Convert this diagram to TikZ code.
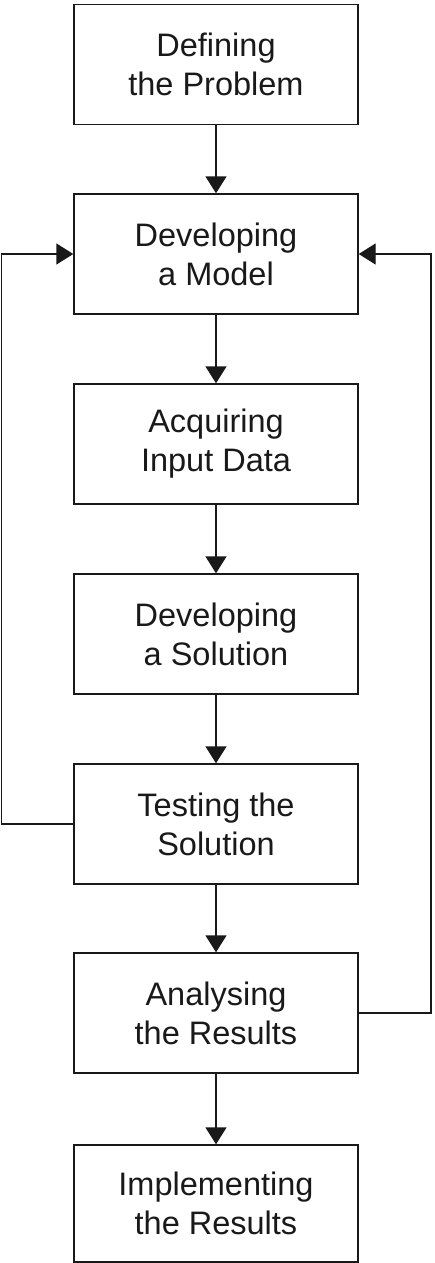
\documentclass[tikz,border=0pt]{standalone}
\usepackage{fontspec}
\setmainfont{Liberation Sans}
\usetikzlibrary{arrows.meta}
\begin{document}
\begin{tikzpicture}[x=1pt,y=-1pt,
  stepbox/.style={draw=black!90,line width=1.4pt,minimum width=284pt,minimum height=120pt,
    inner sep=0pt,align=center,font=\fontsize{32.5}{39}\selectfont,text=black!90},
  flow/.style={draw=black!90,line width=1.4pt,-{Triangle[width=21pt,length=17pt]}}]
\useasboundingbox (0,0) rectangle (434,1263);
\node[stepbox] (b1) at (216,64.5) {Defining\\the Problem};
\node[stepbox] (b2) at (216,254) {Developing\\a Model};
\node[stepbox] (b3) at (216,444) {Acquiring\\Input Data};
\node[stepbox] (b4) at (216,634) {Developing\\a Solution};
\node[stepbox] (b5) at (216,824) {Testing the\\Solution};
\node[stepbox] (b6) at (216,1013) {Analysing\\the Results};
\node[stepbox,minimum height=117pt] (b7) at (216,1203.5) {Implementing\\the Results};
\draw[flow] (b1) -- (b2);
\draw[flow] (b2) -- (b3);
\draw[flow] (b3) -- (b4);
\draw[flow] (b4) -- (b5);
\draw[flow] (b5) -- (b6);
\draw[flow] (b6) -- (b7);
\coordinate (lx) at (1.5,0);
\coordinate (rx) at (431,0);
\draw[flow] (b5.west) -- (b5.west -| lx) -- (b2.west -| lx) -- (b2.west);
\draw[flow] (b6.east) -- (b6.east -| rx) -- (b2.east -| rx) -- (b2.east);
\end{tikzpicture}
\end{document}
